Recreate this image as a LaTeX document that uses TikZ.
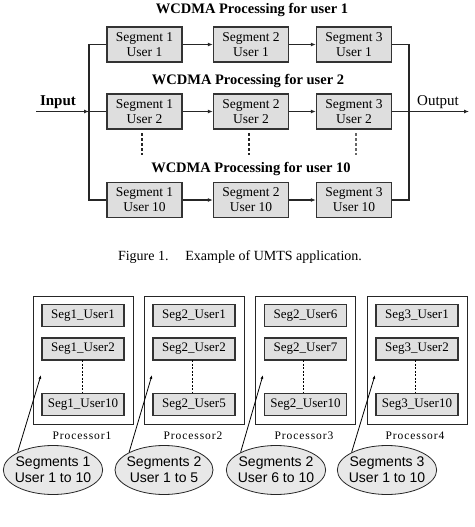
\documentclass[tikz,border=0pt]{standalone}
\usepackage{fontspec}
\setmainfont{Liberation Serif}
\setsansfont{Liberation Sans}
\usetikzlibrary{arrows.meta,shapes.geometric}
\begin{document}
\begin{tikzpicture}[x=1pt,y=-1pt,
  segbox/.style={draw=black!80,line width=1.3pt,fill=black!13,minimum width=75pt,minimum height=35pt,inner sep=0pt,align=center,font=\fontsize{13.5}{15}\selectfont},
  ttl/.style={font=\fontsize{14.5}{16}\selectfont\bfseries},
  conn/.style={line width=1.1pt,black!85},
  arr/.style={conn,-{Latex[length=5pt,width=4pt]}},
  procbox/.style={draw=black!85,line width=0.9pt,minimum width=100pt,minimum height=128pt,inner sep=0pt},
  inbox/.style={draw=black!80,line width=1.1pt,fill=black!12,minimum width=82pt,minimum height=22pt,inner sep=0pt,font=\fontsize{13}{14}\selectfont},
  plabel/.style={font=\fontsize{11.5}{13}\selectfont\addfontfeatures{LetterSpace=8}},
  ell/.style={ellipse,draw=black!85,line width=0.8pt,fill=black!9,minimum width=98pt,minimum height=49pt,inner xsep=-3pt,inner ysep=0pt,align=center,font=\sffamily\fontsize{14}{16}\selectfont},
  sarr/.style={line width=0.8pt,-{Latex[length=4pt,width=3pt]}},
  dline/.style={line width=0.9pt,dash pattern=on 2pt off 1.5pt}
]
\useasboundingbox (0,0) rectangle (474,527);
% ---------- Figure 1 ----------
\node[ttl] (t1) at (252,10) {WCDMA Processing for user 1};
\node[ttl] (t2) at (248,81) {WCDMA Processing for user 2};
\node[ttl] (t3) at (251,169) {WCDMA Processing for user 10};

\node[segbox] (s11) at (144.5,44.5) {Segment 1\\User 1};
\node[segbox] (s21) at (251,44.5) {Segment 2\\User 1};
\node[segbox] (s31) at (354,44.5) {Segment 3\\User 1};
\node[segbox] (s12) at (144.5,111.5) {Segment 1\\User 2};
\node[segbox] (s22) at (251,111.5) {Segment 2\\User 2};
\node[segbox] (s32) at (354,111.5) {Segment 3\\User 2};
\node[segbox] (s13) at (144.5,200) {Segment 1\\User 10};
\node[segbox] (s23) at (251,200) {Segment 2\\User 10};
\node[segbox] (s33) at (354,200) {Segment 3\\User 10};

\draw[arr] (s11) -- (s21);
\draw[arr] (s21) -- (s31);
\draw[arr] (s12) -- (s22);
\draw[arr] (s22) -- (s32);
\draw[arr] (s13) -- (s23);
\draw[arr] (s23) -- (s33);

\coordinate (lt) at (89,44.5);
\coordinate (lm) at (89,111.5);
\coordinate (lb) at (89,200);
\coordinate (rt) at (409,44.5);
\coordinate (rb) at (409,200);
\coordinate (in) at (36,111.5);
\coordinate (out) at (469,111.5);

\draw[conn] (s11.west) -- (lt) -- (lb) -- (s13.west);
\draw[conn] (s31.east) -- (rt) -- (rb) -- (s33.east);
\draw[arr] (in) -- (lm);
\draw[conn] (lm) -- (s12.west);
\draw[arr] (s32.east) -- (out);

\node[font=\fontsize{15}{16}\selectfont\bfseries] (inl) at (58,102) {Input};
\node[font=\fontsize{15}{16}\selectfont] (outl) at (438,102) {Output};

\coordinate (d1a) at (142,133); \coordinate (d1b) at (142,155);
\coordinate (d2a) at (249,133); \coordinate (d2b) at (249,155);
\coordinate (d3a) at (356,133); \coordinate (d3b) at (356,155);
\draw[conn,dash pattern=on 3pt off 2pt] (d1a) -- (d1b);
\draw[conn,dash pattern=on 3pt off 2pt] (d2a) -- (d2b);
\draw[conn,dash pattern=on 3pt off 2pt,black!60] (d3a) -- (d3b);

\node[font=\fontsize{14}{16}\selectfont] (cap1) at (240,257) {Figure 1.\hspace{1.2em}Example of UMTS application.};

% ---------- Figure 2 ----------
\node[procbox] (p1) at (83,360) {};
\node[procbox] (p2) at (194,360) {};
\node[procbox] (p3) at (305.5,360) {};
\node[procbox] (p4) at (417,360) {};

\node[inbox] (a1) at (83,315.5) {Seg1\_User1};
\node[inbox] (a2) at (83,349) {Seg1\_User2};
\node[inbox] (a3) at (83,404.5) {Seg1\_User10};
\node[inbox] (b1) at (194,315.5) {Seg2\_User1};
\node[inbox] (b2) at (194,349) {Seg2\_User2};
\node[inbox] (b3) at (194,404.5) {Seg2\_User5};
\node[inbox] (c1) at (305.5,315.5) {Seg2\_User6};
\node[inbox] (c2) at (305.5,349) {Seg2\_User7};
\node[inbox] (c3) at (305.5,404.5) {Seg2\_User10};
\node[inbox] (e1) at (417,315.5) {Seg3\_User1};
\node[inbox] (e2) at (417,349) {Seg3\_User2};
\node[inbox] (e3) at (417,404.5) {Seg3\_User10};

\draw[dline] (a2) ++(-1,11) -- ++(0,32);
\draw[dline] (b2) ++(-2,11) -- ++(0,32);
\draw[dline] (c2) ++(-2,11) -- ++(0,32);
\draw[dline] (e2) ++(-2,11) -- ++(0,32);

\node[plabel] (pl1) at (82,436) {Processor1};
\node[plabel] (pl2) at (193,436) {Processor2};
\node[plabel] (pl3) at (304,436) {Processor3};
\node[plabel] (pl4) at (415,436) {Processor4};

\node[ell] (el1) at (53,470) {Segments 1\\User 1 to 10};
\node[ell] (el2) at (164,470) {Segments 2\\User 1 to 5};
\node[ell] (el3) at (276,470) {Segments 2\\User 6 to 10};
\node[ell] (el4) at (387,470) {Segments 3\\User 1 to 10};

\coordinate (k1) at (41,375);
\coordinate (k2) at (152,375);
\coordinate (k3) at (263,375);
\coordinate (k4) at (375,375);
\draw[sarr] (el1.north west) -- (k1);
\draw[sarr] (el2.north west) -- (k2);
\draw[sarr] (el3.north west) -- (k3);
\draw[sarr] (el4.north west) -- (k4);
\end{tikzpicture}
\end{document}
